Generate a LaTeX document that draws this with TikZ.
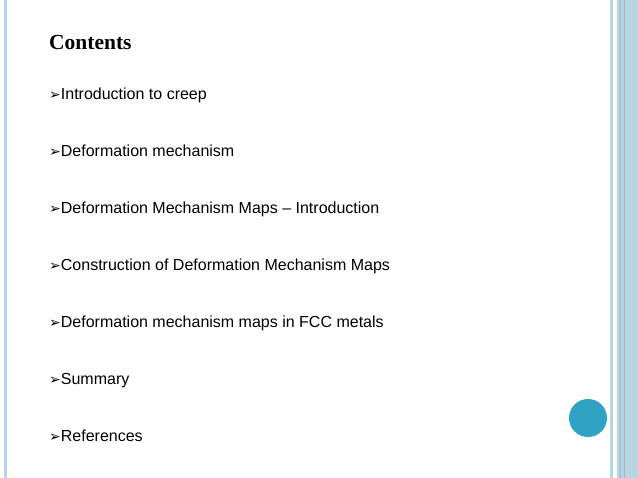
\documentclass[tikz,border=0pt]{standalone}
\usepackage{fontspec}
\setmainfont{Liberation Sans}
\newfontfamily\titlefont{Liberation Serif}
\newfontfamily\symfont{DejaVu Sans}
\definecolor{band}{RGB}{184,212,224}
\definecolor{bandd}{RGB}{150,190,208}
\definecolor{dot}{RGB}{46,163,196}
\begin{document}
\begin{tikzpicture}[x=1pt,y=-1pt,
  item/.style={anchor=base west,inner sep=0pt,font=\fontsize{16}{18}\selectfont},
  ttl/.style={anchor=base west,inner sep=0pt,font=\titlefont\bfseries\fontsize{21.5}{24}\selectfont}]
\useasboundingbox (0,0) rectangle (638,478);
\fill[white] (0,0) rectangle (638,478);
\fill[band] (4,0) rectangle (7,478);
\fill[band] (610,0) rectangle (613,478);
\fill[band] (617,0) rectangle (638,478);
\fill[bandd] (619.5,0) rectangle (620.5,478);
\fill[bandd] (623.5,0) rectangle (624.5,478);
\fill[dot] (588,418) circle (19);
\node[ttl] (t) at (49,50) {Contents};
\foreach \n/\y/\s in {a/100/Introduction to creep,b/157/Deformation mechanism,c/214/Deformation Mechanism Maps – Introduction,d/271/Construction of Deformation Mechanism Maps,e/328/Deformation mechanism maps in FCC metals,f/385/Summary,g/442/References}
  \node[item] (\n) at (49,\y) {{\symfont\fontsize{14}{16}\selectfont ➢}\s};
\end{tikzpicture}
\end{document}
